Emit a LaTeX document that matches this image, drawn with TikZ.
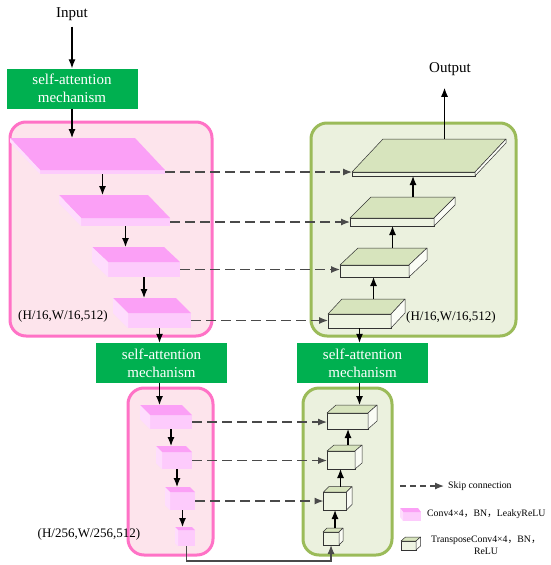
\documentclass[tikz,border=0pt]{standalone}
\usepackage{fontspec}
\setmainfont{Liberation Serif}
\newfontfamily\cjk{Noto Sans CJK SC}
\usetikzlibrary{arrows.meta,calc}
\definecolor{sagreen}{HTML}{00B050}
\definecolor{encborder}{HTML}{FF72C6}
\definecolor{encfill}{HTML}{FDE4EC}
\definecolor{pinktop}{HTML}{FBA0F6}
\definecolor{pinkfront}{HTML}{FDCBFC}
\definecolor{pinkside}{HTML}{FEDDFD}
\definecolor{decborder}{HTML}{9BBB59}
\definecolor{decfill}{HTML}{EBF1DE}
\definecolor{greentop}{HTML}{D7E4BD}
\definecolor{greenfront}{HTML}{EEF4E2}
\definecolor{greenside}{HTML}{FAFCF5}
\definecolor{skipgray}{HTML}{4A4A4A}
\begin{document}
\begin{tikzpicture}[x=1pt,y=-1pt,
  arr/.style={-{Latex[length=9pt,width=7pt]},line width=1.2pt},
  skip/.style={-{Latex[length=9pt,width=7pt]},line width=1.2pt,draw=skipgray,dash pattern=on 10pt off 5pt},
  sabox/.style={fill=sagreen,text=white,align=center,font=\fontsize{15}{18}\selectfont,minimum width=131pt,minimum height=40pt,inner sep=0pt},
  encbox/.style={draw=encborder,fill=encfill,line width=3pt,rounded corners=16pt,inner sep=0pt},
  decbox/.style={draw=decborder,fill=decfill,line width=3pt,rounded corners=16pt,inner sep=0pt},
  efront/.style={fill=pinkfront,inner sep=0pt,outer sep=0pt},
  dfront/.style={fill=greenfront,draw=black!80,line width=0.5pt,inner sep=0pt,outer sep=0pt},
  big/.style={font=\fontsize{15}{18}\selectfont},
  dim/.style={font=\fontsize{13}{15}\selectfont,inner sep=0pt},
  leg/.style={font=\fontsize{9.8}{12}\selectfont,inner sep=0pt}]
  \useasboundingbox (0,0) rectangle (550,565);
  %%
  \node (encA) at (111,229) [encbox,minimum width=202pt,minimum height=214pt] {};
  \node (decA) at (413.5,229.5) [decbox,minimum width=205pt,minimum height=213pt] {};
  \node (encB) at (170.5,471.5) [encbox,minimum width=85pt,minimum height=167pt] {};
  \node (decB) at (347.5,471.5) [decbox,minimum width=89pt,minimum height=167pt] {};
  \node (in) at (72,14) [big,inner sep=6pt] {Input};
  \node (out) at (450,69) [big,inner sep=12pt] {Output};
  \node (sa1) at (72,88.5) [sabox] {self-attention\\mechanism};
  \node (sa2) at (161.5,363) [sabox] {self-attention\\mechanism};
  \node (sa3) at (362.5,363) [sabox] {self-attention\\mechanism};
  %%
  \foreach \nm/\cx/\cy/\w/\h/\dx/\dy in {E1/102.5/172/125/4/-30/-32, E2/125.5/222/89/8/-22/-23,
      E3/144/269.5/72/15/-16/-15, E4/159.5/320.5/63/15/-15/-15, L1/171/422/42/14/-10/-10,
      L2/177/460.5/30/17/-6/-6, L3/182.5/501/25/18/-5/-5, L4/186.5/538/17/16/-3/-3,
      PL/412/516.5/18/9/-3/-4}{
    \node (\nm) at (\cx,\cy) [efront,minimum width=\w pt,minimum height=\h pt] {};
    \fill[pinktop] (\nm.north west) -- ++(\dx,\dy) -- ++(\w,0) -- (\nm.north east) -- cycle;
    \fill[pinkside] (\nm.north west) -- ++(\dx,\dy) -- ($(\nm.south west)+(\dx,\dy)$) -- (\nm.south west) -- cycle;
    \coordinate (\nm-b) at ($(\nm.north)+(\dx,\dy)$);
  }
  \foreach \nm/\cx/\cy/\w/\h/\dx/\dy in {D1/413.5/174/123/4/31/-33, D2/392/222/84/8/21/-21,
      D3/374.5/271/69/12/18/-17, D4/359.5/321/63/14/14/-15, U1/347.5/421/41/16/9/-8,
      U2/341/460/28/18/7/-6, U3/335/501/23/18/5.5/-5.5, U4/331/538.5/16/13/4/-4,
      GL/408.5/545.5/15/9/4.5/-4}{
    \node (\nm) at (\cx,\cy) [dfront,minimum width=\w pt,minimum height=\h pt] {};
    \filldraw[fill=greentop,draw=black!80,line width=0.5pt,line join=round] (\nm.north west) -- ++(\dx,\dy) -- ++(\w,0) -- (\nm.north east) -- cycle;
    \filldraw[fill=greenside,draw=black!80,line width=0.5pt,line join=round] (\nm.north east) -- ++(\dx,\dy) -- ($(\nm.south east)+(\dx,\dy)$) -- (\nm.south east) -- cycle;
    \coordinate (\nm-b) at ($(\nm.north)+(\dx,\dy)$);
  }
  %%
  \node (dimA) at (63,316) [dim] {(H/16,W/16,512)};
  \node (dimB) at (451,317) [dim] {(H/16,W/16,512)};
  \node (dimC) at (89,534) [dim] {(H/256,W/256,512)};
  %%
  \draw[arr] (in) -- (sa1);
  \draw[arr] (sa1.south) -- (sa1.south |- E1-b);
  \draw[arr] (E1.south) -- (E1.south |- E2-b);
  \draw[arr] (E2.south) -- (E2.south |- E3-b);
  \draw[arr] (E3.south) -- (E3.south |- E4-b);
  \draw[arr] (E4.south) -- (E4.south |- sa2.north);
  \draw[arr] (E4.south |- sa2.south) -- (E4.south |- L1-b);
  \draw[arr] (L1.south) -- (L1.south |- L2-b);
  \draw[arr] (L2.south) -- (L2.south |- L3-b);
  \draw[arr] (L3.south) -- (L3.south |- L4-b);
  \draw[arr,draw=skipgray] (L4.south) -- ++(0,15) -| (U4.south);
  \draw[arr] (U4-b) -- (U4-b |- U3.south);
  \draw[arr] (U3-b) -- (U3-b |- U2.south);
  \draw[arr] (U2-b) -- (U2-b |- U1.south);
  \draw[arr] (D4.south) -- (D4.south |- sa3.north);
  \draw[arr] (D4.south |- sa3.south) -- (D4.south |- U1-b);
  \draw[arr] (D4-b) -- (D4-b |- D3.south);
  \draw[arr] (D3-b) -- (D3-b |- D2.south);
  \draw[arr] (D2-b) -- (D2-b |- D1.south);
  \draw[arr] (D1-b) -- (D1-b |- out.south);
  %%
  \draw[skip] (E1.east) -- (E1.east -| D1.west);
  \draw[skip] (E2.east) -- (E2.east -| D2.west);
  \draw[skip] (E3.east) -- (E3.east -| D3.west);
  \draw[skip] (E4.east) -- (E4.east -| D4.west);
  \draw[skip] (L1.east) -- (L1.east -| U1.west);
  \draw[skip] (L2.east) -- (L2.east -| U2.west);
  \draw[skip] (L3.east) -- (L3.east -| U3.west);
  %%
  \coordinate (legA) at (400,486);
  \coordinate (legB) at (444,486);
  \draw[skip,dash pattern=on 6pt off 4pt] (legA) -- (legB);
  \node (legskip) at (448,486) [leg,anchor=west] {Skip connection};
  \node (legconv) at (427,514) [leg,anchor=west] {Conv4×4{\cjk ，}BN{\cjk ，}LeakyReLU};
  \node (legtconv) at (486,545) [leg,align=center] {TransposeConv4×4{\cjk ，}BN{\cjk ，}\\ReLU};
  %
\end{tikzpicture}
\end{document}
